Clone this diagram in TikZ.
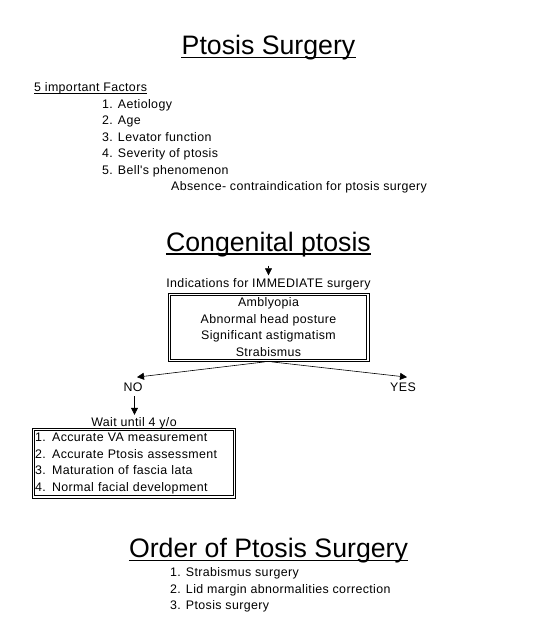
\documentclass[tikz,border=0pt]{standalone}
\usepackage{fontspec}
\setmainfont{Liberation Sans}
\newfontfamily\smallf{Liberation Sans}[LetterSpace=3.0]
\usetikzlibrary{arrows.meta}
\begin{document}
\begin{tikzpicture}[x=1pt,y=-1pt,
  title/.style={inner sep=0pt,anchor=base,font=\fontsize{26.7}{30}\selectfont},
  txt/.style={inner sep=0pt,font=\smallf\fontsize{12.4}{16.5}\selectfont},
  dbox/.style={draw,line width=0.8pt,inner sep=0pt},
  arr/.style={-{Triangle[length=7pt,width=7pt]},line width=0.6pt},
  uline/.style={line width=#1}
]
\useasboundingbox[fill=white] (0,0) rectangle (550,630);
% title
\node[title] (t1) at (268.5,54.5) {Ptosis Surgery};
\draw[uline=1.6pt] ([yshift=-3pt]t1.base west) -- ([yshift=-3pt]t1.base east);
\node[txt,anchor=base west] (fac) at (34,91) {5 important Factors};
\draw[uline=0.7pt] ([yshift=-2pt]fac.base west) -- ([yshift=-2pt]fac.base east);
\node[txt,anchor=base west] (f1) at (102,108) {1. Aetiology};
\node[txt,anchor=base west] (f2) at (102,124.5) {2. Age};
\node[txt,anchor=base west] (f3) at (102,141) {3. Levator function};
\node[txt,anchor=base west] (f4) at (102,157.5) {4. Severity of ptosis};
\node[txt,anchor=base west] (f5) at (102,174) {5. Bell's phenomenon};
\node[txt,anchor=base west] (abs) at (171,190.5) {Absence- contraindication for ptosis surgery};
% congenital
\node[title] (t2) at (268.5,251) {Congenital ptosis};
\draw[uline=1.6pt] ([yshift=-3pt]t2.base west) -- ([yshift=-3pt]t2.base east);
\node[txt,anchor=base] (ind) at (268.5,287.5) {Indications for IMMEDIATE surgery};
\draw[arr,shorten <=9pt,shorten >=3pt] (t2.south) -- (ind.north);
\node[dbox,txt,align=center,minimum width=201pt,minimum height=68.5pt] (b1) at (268.5,327.2)
  {Amblyopia\\Abnormal head posture\\Significant astigmatism\\Strabismus};
\draw[line width=0.8pt] ([shift={(2.6,2.6)}]b1.north west) rectangle ([shift={(-2.6,-2.6)}]b1.south east);
\node[txt,anchor=base] (no) at (133,391) {NO};
\node[txt,anchor=base] (yes) at (403,391) {YES};
\draw[arr] ([xshift=-3.5pt]b1.south) -- ([shift={(4,-5)}]no.north);
\draw[arr] ([xshift=3pt]b1.south) -- ([shift={(4,-5)}]yes.north);
\node[txt,anchor=base] (wait) at (134,426) {Wait until 4 y/o};
\draw[arr,shorten <=5pt,shorten >=2pt] ([xshift=1.5pt]no.south) -- ([xshift=1.5pt]no.south |- wait.north);
\node[dbox,txt,align=left,text width=197pt,inner xsep=3pt,minimum height=69.5pt] (b2) at (133.7,463.3)
  {1. Accurate VA measurement\\2. Accurate Ptosis assessment\\3. Maturation of fascia lata\\4. Normal facial development};
\draw[line width=0.8pt] ([shift={(2.6,2.6)}]b2.north west) rectangle ([shift={(-2.6,-2.6)}]b2.south east);
% order
\node[title] (t3) at (268.5,557) {Order of Ptosis Surgery};
\draw[uline=1.6pt] ([yshift=-3.5pt]t3.base west) -- ([yshift=-3.5pt]t3.base east);
\node[txt,anchor=base west] (o1) at (170,576.5) {1. Strabismus surgery};
\node[txt,anchor=base west] (o2) at (170,593) {2. Lid margin abnormalities correction};
\node[txt,anchor=base west] (o3) at (170,609.5) {3. Ptosis surgery};
\end{tikzpicture}
\end{document}
